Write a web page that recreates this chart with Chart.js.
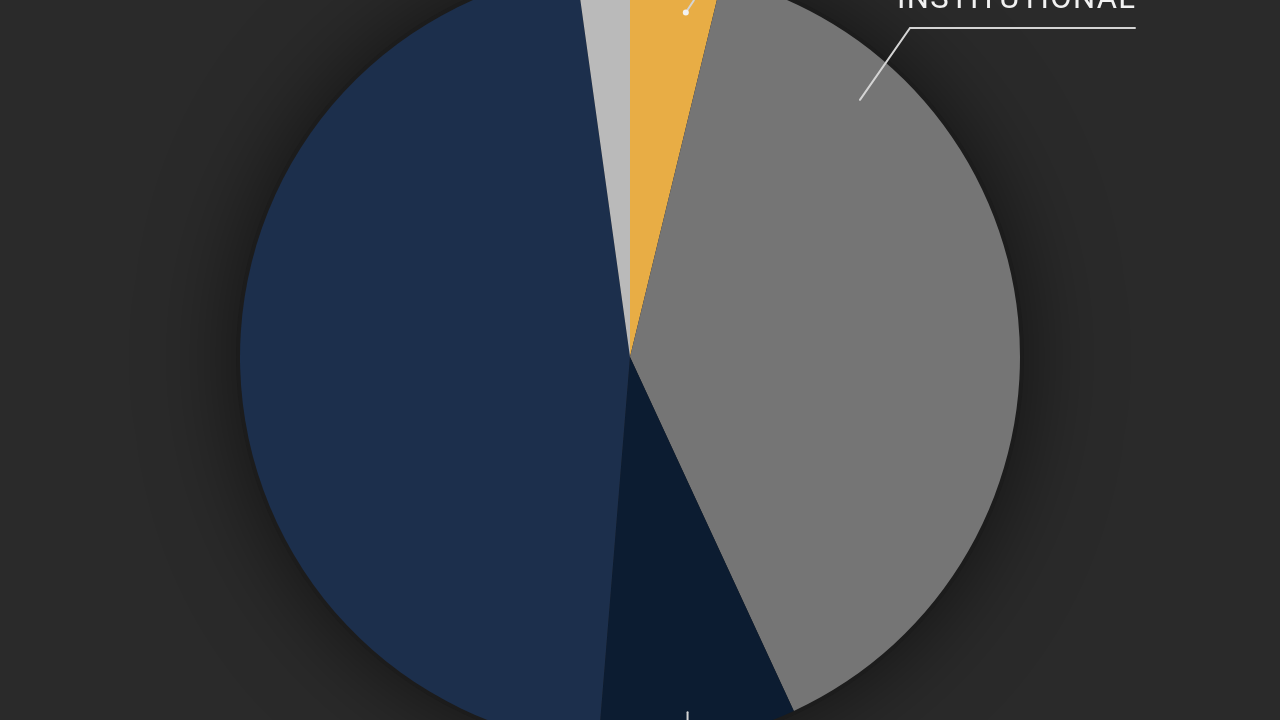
<!DOCTYPE html>
<html>
<head>
<meta charset="utf-8">
<script src="https://cdn.jsdelivr.net/npm/chart.js@4.4.1/dist/chart.umd.min.js"></script>
<style>
  html, body { margin:0; padding:0; background:#2a2a2a; overflow:hidden; }
  #wrap { position:relative; width:1280px; height:720px; }
</style>
</head>
<body>
<div id="wrap"><canvas id="pie"></canvas></div>
<script>
// slices clockwise from 12 o'clock, values in percent
const LABELS = ["Segment A", "INSTITUTIONAL", "Segment C", "Segment D", "Segment E"];
const VALUES = [3.8, 39.3, 8.2, 46.5, 2.2];
const COLORS = ["#e8ad45", "#757575", "#0c1c31", "#1c2f4c", "#bababa"];
const SHOWN_LABEL = "INSTITUTIONAL";

// soft dark shadow behind the pie
const shadowPlugin = {
  id: 'pieShadow',
  beforeDatasetsDraw(chart) {
    const arc = chart.getDatasetMeta(0).data[0];
    if (!arc) return;
    const ctx = chart.ctx;
    ctx.save();
    ctx.shadowColor = 'rgba(0,0,0,0.55)';
    ctx.shadowBlur = 90;
    ctx.fillStyle = '#1c1c1c';
    ctx.beginPath();
    ctx.arc(arc.x, arc.y, arc.outerRadius + 4, 0, Math.PI * 2);
    ctx.fill();
    ctx.restore();
  }
};

// leader lines + label
const calloutPlugin = {
  id: 'callouts',
  afterDatasetsDraw(chart) {
    const arc = chart.getDatasetMeta(0).data[0];
    if (!arc) return;
    const ctx = chart.ctx;
    const cx = arc.x, cy = arc.y;
    const polar = (deg, r) => {
      const a = (deg - 90) * Math.PI / 180;
      return [cx + r * Math.cos(a), cy + r * Math.sin(a)];
    };
    ctx.save();
    ctx.strokeStyle = '#d4d4d4';
    ctx.fillStyle = '#f2f2f2';
    ctx.lineWidth = 2;
    ctx.lineCap = 'round';

    // INSTITUTIONAL
    const p0 = polar(41.8, 345);
    const p1 = polar(40.4, 432);
    const endX = p1[0] + 225;
    ctx.beginPath();
    ctx.moveTo(p0[0], p0[1]);
    ctx.lineTo(p1[0], p1[1]);
    ctx.lineTo(endX, p1[1]);
    ctx.stroke();

    ctx.font = '400 31px Roboto, "DejaVu Sans", sans-serif';
    const natural = ctx.measureText(SHOWN_LABEL).width;
    const target = 238;
    ctx.letterSpacing = ((target - natural) / (SHOWN_LABEL.length - 1)).toFixed(2) + 'px';
    ctx.textAlign = 'left';
    ctx.textBaseline = 'alphabetic';
    ctx.fillText(SHOWN_LABEL, endX - target, p1[1] - 20);
    ctx.letterSpacing = '0px';

    // leader from the yellow slice running off the top
    const q0 = polar(9.2, 349);
    ctx.beginPath();
    ctx.moveTo(q0[0], q0[1]);
    ctx.lineTo(q0[0] + 8, q0[1] - 12);
    ctx.stroke();
    ctx.beginPath();
    ctx.arc(q0[0], q0[1], 3, 0, Math.PI * 2);
    ctx.fill();

    // leader from the navy slice running off the bottom
    const b0 = polar(170.8, 360);
    ctx.beginPath();
    ctx.moveTo(b0[0], b0[1]);
    ctx.lineTo(b0[0], b0[1] + 12);
    ctx.stroke();
    ctx.restore();
  }
};

function init() {
  const ctx = document.getElementById('pie').getContext('2d');
  new Chart(ctx, {
    type: 'pie',
    data: {
      labels: LABELS,
      datasets: [{
        data: VALUES,
        backgroundColor: COLORS,
        borderWidth: 0
      }]
    },
    options: {
      responsive: true,
      maintainAspectRatio: false,
      animation: false,
      radius: 390,
      layout: { padding: { left: 0, right: 20, top: 0, bottom: 6 } },
      plugins: {
        legend: { display: false },
        tooltip: { enabled: false }
      }
    },
    plugins: [shadowPlugin, calloutPlugin]
  });
}

window.addEventListener('DOMContentLoaded', init);
</script>
</body>
</html>
